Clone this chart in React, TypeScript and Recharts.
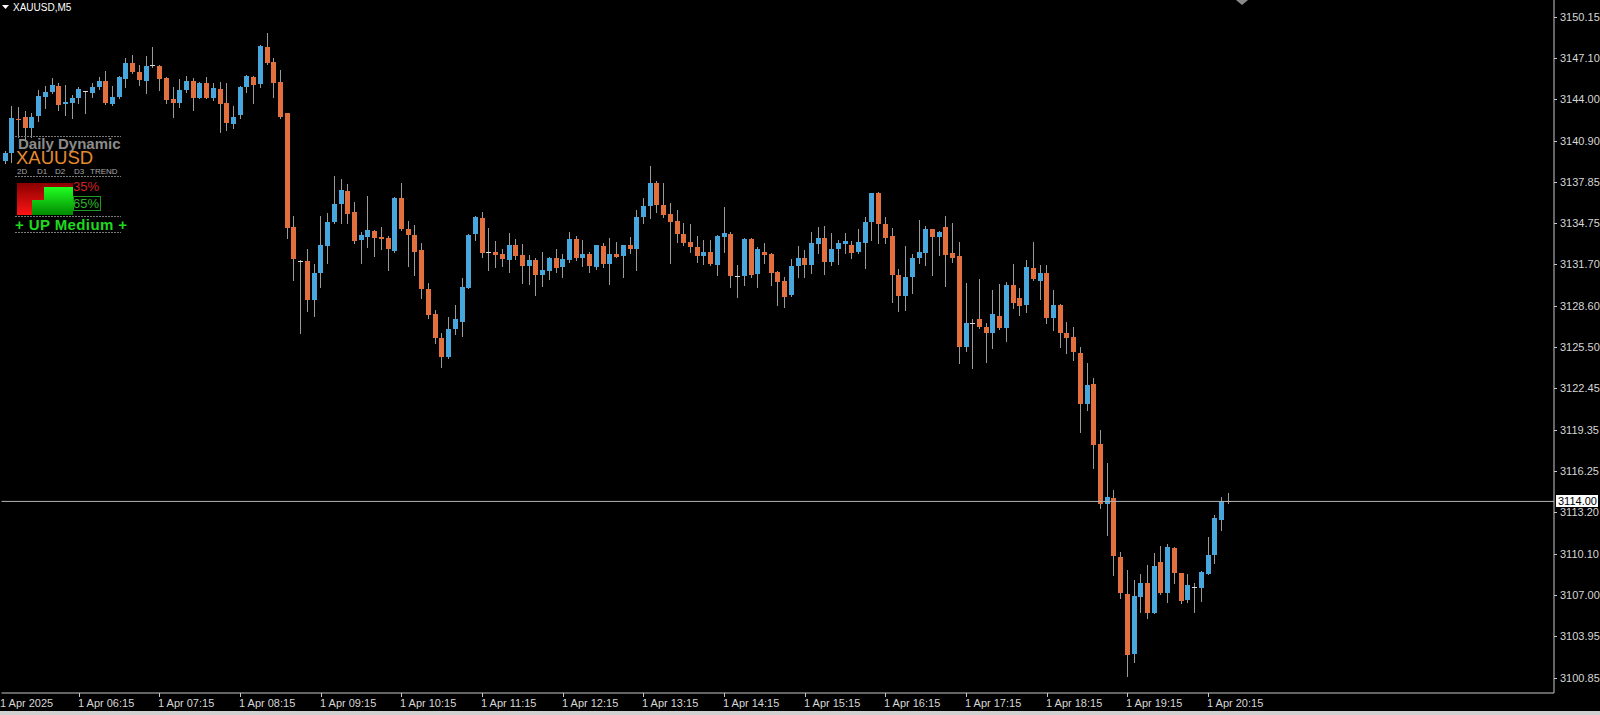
import React from "react";
import { ComposedChart, Bar, XAxis, YAxis, ReferenceLine } from "recharts";

// ---- data (M5 bars, XAUUSD, 1 Apr 2025) ----
const START_TIME = "05:20";
const BAR_MINUTES = 5;
const FUTURE_SLOTS = 48; // empty chart-shift area on the right

const OPEN = [
  3139.41, 3139.96, 3142.55, 3142.65, 3141.83, 3142.75, 3144.19, 3144.56, 3144.98, 3143.64,
  3143.74, 3144.06, 3144.58, 3144.44, 3144.93, 3145.38, 3143.64, 3144.19, 3145.48, 3146.67,
  3146.05, 3145.36, 3146.55, 3146.50, 3145.60, 3143.99, 3143.74, 3144.69, 3145.38, 3144.11,
  3145.18, 3144.11, 3144.73, 3143.74, 3142.15, 3142.82, 3144.88, 3145.68, 3145.13, 3147.87,
  3146.80, 3145.31, 3142.95, 3134.44, 3131.95, 3131.95, 3129.02, 3131.01, 3133.05, 3134.86,
  3136.18, 3137.15, 3135.61, 3133.49, 3133.74, 3134.17, 3133.74, 3133.62, 3132.70, 3136.65,
  3134.29, 3133.87, 3132.75, 3129.82, 3127.98, 3126.16, 3124.74, 3126.83, 3127.40, 3129.89,
  3133.94, 3135.11, 3132.57, 3132.62, 3132.42, 3132.00, 3133.12, 3132.37, 3131.55, 3132.00,
  3130.88, 3131.21, 3132.18, 3131.46, 3132.01, 3133.55, 3132.18, 3132.43, 3131.51, 3133.05,
  3131.68, 3132.43, 3132.31, 3133.13, 3132.80, 3135.19, 3136.03, 3137.77, 3136.11, 3135.44,
  3134.94, 3133.95, 3133.37, 3132.95, 3132.31, 3132.63, 3131.63, 3133.70, 3133.95, 3130.81,
  3130.81, 3133.55, 3130.96, 3132.58, 3132.43, 3131.14, 3130.47, 3129.40, 3131.56, 3132.13,
  3131.63, 3133.18, 3133.62, 3131.88, 3132.80, 3133.20, 3133.12, 3132.63, 3133.30, 3134.86,
  3136.98, 3134.69, 3133.79, 3130.89, 3129.32, 3130.76, 3132.13, 3132.55, 3134.29, 3133.70,
  3134.44, 3132.50, 3132.30, 3125.54, 3127.33, 3127.58, 3126.98, 3126.59, 3127.83, 3126.91,
  3130.14, 3129.15, 3128.65, 3131.38, 3130.46, 3131.01, 3127.65, 3128.65, 3126.59, 3126.29,
  3125.09, 3121.27, 3122.76, 3118.28, 3113.81, 3114.23, 3109.88, 3107.10, 3102.62, 3106.85,
  3107.94, 3105.70, 3109.51, 3107.15, 3110.50, 3108.64, 3106.65, 3107.60, 3107.52, 3108.59,
  3110.00, 3112.61, 3114.00,
];

const HIGH = [
  3140.16, 3143.49, 3143.39, 3143.12, 3142.95, 3144.69, 3144.98, 3145.56, 3145.18, 3145.06,
  3144.31, 3144.93, 3144.62, 3145.18, 3145.68, 3146.13, 3144.98, 3145.73, 3147.05, 3147.30,
  3146.55, 3147.22, 3147.92, 3146.55, 3145.68, 3144.93, 3145.48, 3145.75, 3145.56, 3145.31,
  3145.68, 3145.18, 3145.31, 3145.18, 3143.49, 3144.98, 3145.80, 3145.75, 3148.04, 3148.96,
  3147.05, 3146.18, 3143.00, 3135.28, 3131.98, 3132.80, 3131.70, 3135.28, 3135.48, 3138.27,
  3138.02, 3137.67, 3136.35, 3134.12, 3136.78, 3134.24, 3134.44, 3133.79, 3136.68, 3137.72,
  3134.94, 3134.61, 3133.25, 3130.31, 3128.27, 3126.53, 3127.73, 3128.65, 3130.64, 3133.94,
  3135.28, 3135.61, 3134.36, 3133.44, 3132.80, 3133.99, 3133.54, 3133.20, 3132.37, 3132.13,
  3132.62, 3132.25, 3132.80, 3132.45, 3134.12, 3133.80, 3133.50, 3132.63, 3133.13, 3133.25,
  3133.62, 3133.37, 3133.13, 3133.75, 3135.74, 3136.61, 3139.02, 3137.92, 3137.77, 3136.28,
  3135.74, 3134.79, 3134.69, 3133.80, 3133.50, 3133.50, 3133.87, 3135.93, 3134.12, 3131.63,
  3133.62, 3133.62, 3133.00, 3133.30, 3132.50, 3131.21, 3130.76, 3132.06, 3133.05, 3132.75,
  3134.12, 3134.44, 3134.54, 3134.00, 3133.50, 3134.00, 3133.45, 3134.29, 3135.24, 3137.00,
  3137.10, 3135.24, 3134.37, 3131.31, 3133.05, 3132.45, 3134.99, 3134.54, 3134.35, 3134.19,
  3135.29, 3134.79, 3133.37, 3130.31, 3127.58, 3130.56, 3127.33, 3129.77, 3130.21, 3130.39,
  3131.71, 3129.89, 3132.00, 3133.37, 3131.63, 3131.63, 3129.77, 3128.70, 3127.41, 3127.03,
  3125.54, 3124.30, 3123.18, 3119.33, 3116.89, 3114.85, 3110.25, 3108.89, 3108.14, 3108.59,
  3109.26, 3110.13, 3110.68, 3110.82, 3110.63, 3108.69, 3108.59, 3107.89, 3108.80, 3111.32,
  3112.99, 3114.30, 3114.65,
];

const LOW = [
  3139.27, 3139.34, 3141.20, 3140.96, 3141.20, 3142.40, 3143.32, 3144.44, 3143.19, 3142.82,
  3142.57, 3143.69, 3142.95, 3144.19, 3144.73, 3143.64, 3143.57, 3144.06, 3144.93, 3145.98,
  3145.06, 3144.44, 3146.38, 3144.69, 3143.69, 3142.70, 3143.44, 3144.56, 3143.19, 3144.06,
  3144.06, 3143.94, 3141.58, 3141.70, 3141.83, 3142.57, 3144.56, 3143.69, 3144.93, 3146.60,
  3144.19, 3142.57, 3133.62, 3130.51, 3126.59, 3128.22, 3127.83, 3130.01, 3131.80, 3134.74,
  3134.74, 3134.74, 3133.25, 3131.75, 3133.00, 3132.30, 3132.80, 3131.26, 3132.62, 3134.24,
  3131.55, 3130.88, 3129.14, 3127.65, 3125.79, 3124.05, 3124.67, 3126.48, 3126.34, 3129.89,
  3133.49, 3132.20, 3131.26, 3131.50, 3131.55, 3131.13, 3132.05, 3130.26, 3130.21, 3129.39,
  3130.06, 3130.56, 3131.13, 3130.76, 3131.88, 3132.01, 3131.56, 3131.14, 3131.31, 3131.51,
  3130.22, 3132.21, 3130.76, 3132.50, 3131.26, 3134.79, 3135.11, 3135.61, 3135.24, 3131.76,
  3133.37, 3133.13, 3132.63, 3131.88, 3131.71, 3131.63, 3130.89, 3132.63, 3130.02, 3129.27,
  3130.14, 3130.76, 3129.97, 3131.76, 3130.14, 3128.65, 3128.53, 3129.32, 3130.76, 3130.76,
  3131.06, 3132.55, 3130.96, 3131.63, 3131.71, 3132.50, 3132.13, 3132.50, 3131.38, 3133.50,
  3133.25, 3133.25, 3128.90, 3128.23, 3128.28, 3129.52, 3131.76, 3131.63, 3130.89, 3132.38,
  3130.07, 3131.88, 3124.35, 3125.24, 3123.93, 3126.91, 3124.42, 3125.42, 3126.83, 3125.99,
  3128.40, 3127.90, 3128.15, 3130.51, 3129.07, 3127.28, 3126.78, 3125.54, 3125.05, 3124.55,
  3119.20, 3120.82, 3116.47, 3113.49, 3111.50, 3108.51, 3106.77, 3100.98, 3102.00, 3105.78,
  3105.28, 3105.65, 3107.10, 3106.52, 3107.89, 3106.40, 3106.52, 3105.78, 3106.60, 3108.59,
  3109.38, 3111.87, 3113.86,
];

const CLOSE = [
  3140.01, 3142.57, 3142.50, 3141.83, 3142.70, 3144.24, 3144.56, 3145.06, 3143.57, 3143.81,
  3144.06, 3144.73, 3144.58, 3144.93, 3145.36, 3143.69, 3144.19, 3145.68, 3146.67, 3146.05,
  3145.43, 3146.50, 3146.55, 3145.51, 3143.94, 3143.69, 3144.69, 3145.38, 3144.11, 3145.18,
  3144.11, 3144.81, 3143.64, 3142.20, 3142.65, 3144.88, 3145.73, 3145.06, 3147.97, 3146.67,
  3145.23, 3142.70, 3134.36, 3132.05, 3131.95, 3129.02, 3131.06, 3133.12, 3134.86, 3136.18,
  3137.22, 3135.43, 3133.44, 3133.87, 3134.24, 3133.62, 3133.54, 3132.80, 3136.60, 3134.31,
  3133.87, 3132.62, 3129.82, 3127.90, 3126.16, 3124.74, 3126.83, 3127.58, 3130.01, 3133.87,
  3135.18, 3132.50, 3132.57, 3132.37, 3132.05, 3133.12, 3132.30, 3131.55, 3132.00, 3130.88,
  3131.26, 3132.18, 3131.38, 3132.05, 3133.55, 3132.13, 3132.43, 3131.56, 3133.13, 3131.71,
  3132.43, 3132.26, 3133.13, 3132.80, 3135.24, 3136.03, 3137.77, 3136.11, 3135.36, 3134.87,
  3133.95, 3133.30, 3133.00, 3132.31, 3132.63, 3131.71, 3133.80, 3134.00, 3130.81, 3130.81,
  3133.55, 3130.89, 3132.80, 3132.38, 3131.06, 3130.39, 3129.27, 3131.56, 3132.13, 3131.63,
  3133.25, 3133.62, 3131.88, 3132.80, 3133.25, 3133.45, 3132.55, 3133.37, 3134.86, 3136.98,
  3134.69, 3133.62, 3130.89, 3129.32, 3130.76, 3132.13, 3132.63, 3134.29, 3133.70, 3134.12,
  3132.38, 3132.13, 3125.54, 3127.33, 3127.33, 3127.03, 3126.59, 3127.98, 3126.91, 3130.14,
  3128.82, 3128.57, 3131.46, 3130.56, 3131.01, 3127.65, 3128.65, 3126.54, 3126.16, 3125.17,
  3121.27, 3122.68, 3118.21, 3113.81, 3114.30, 3109.93, 3107.15, 3102.55, 3106.95, 3107.89,
  3105.65, 3109.19, 3107.15, 3110.58, 3108.64, 3106.60, 3107.77, 3107.60, 3108.76, 3110.00,
  3112.74, 3114.06, 3114.00,
];

const TIME_TICKS = [
  "05:20", "06:15", "07:15", "08:15", "09:15", "10:15", "11:15", "12:15",
  "13:15", "14:15", "15:15", "16:15", "17:15", "18:15", "19:15", "20:15",
];
const FIRST_LABEL = "1 Apr 2025";
const DAY_PREFIX = "1 Apr ";

const PRICE_TICKS = [
  3150.15, 3147.1, 3144.0, 3140.9, 3137.85, 3134.75, 3131.7, 3128.6, 3125.5,
  3122.45, 3119.35, 3116.25, 3113.2, 3110.1, 3107.0, 3103.95, 3100.85,
];
const CURRENT_PRICE = 3114.0;
const Y_MIN = 3099.71;
const Y_MAX = 3151.4;

// ---- style ----
const W = 1600;
const H = 715;
const PLOT_RIGHT = 1554;
const PLOT_BOTTOM = 693;
const BULL = "#47a7dc";
const BEAR = "#e26f3e";
const WICK = "#9a9a9a";
const DOJI = "#d8d8d8";
const AXIS = "#c8c8c8";
const TEXT = "#d6d6d6";
const FONT = "'Liberation Sans', Arial, sans-serif";

function timeLabel(i: number): string {
  const [hh, mm] = START_TIME.split(":").map(Number);
  const m = (hh * 60 + mm + i * BAR_MINUTES) % 1440;
  const h2 = Math.floor(m / 60);
  const m2 = m % 60;
  return String(h2).padStart(2, "0") + ":" + String(m2).padStart(2, "0");
}

const data: any[] = [];
for (let i = 0; i < OPEN.length + FUTURE_SLOTS; i++) {
  if (i < OPEN.length) {
    data.push({ t: timeLabel(i), o: OPEN[i], h: HIGH[i], l: LOW[i], c: CLOSE[i] });
  } else {
    data.push({ t: timeLabel(i) });
  }
}

const Candle = (props: any) => {
  const { x, y, width, height, payload } = props;
  if (!payload || payload.o == null) return null;
  if (![x, y, width, height].every((v) => Number.isFinite(v))) return null;
  const { o, h, l, c } = payload;
  const top = Math.min(y, y + height);
  const bottom = Math.max(y, y + height);
  const span = h - l;
  const toY = (v: number) => (span > 0 ? top + ((h - v) / span) * (bottom - top) : top);
  const cx = Math.round(x + width / 2);
  const wx = cx + 0.5;
  const bTop = Math.round(toY(Math.max(o, c)));
  const bBot = Math.round(toY(Math.min(o, c)));
  const wick = (
    <line x1={wx} x2={wx} y1={Math.round(top)} y2={Math.round(bottom) + 1} stroke={WICK} strokeWidth={1} />
  );
  if (o === c) {
    return (
      <g>
        {wick}
        <line x1={cx - 2} x2={cx + 3} y1={bTop + 0.5} y2={bTop + 0.5} stroke={DOJI} strokeWidth={1} />
      </g>
    );
  }
  const color = c > o ? BULL : BEAR;
  return (
    <g>
      {wick}
      <rect x={cx - 2} y={bTop} width={5} height={Math.max(1, bBot - bTop)} fill={color} />
    </g>
  );
};

const TimeTick = (props: any) => {
  const { x, y, payload } = props;
  const first = payload.value === START_TIME;
  const tx = Math.round(x);
  return (
    <g>
      {!first && <line x1={tx + 0.5} x2={tx + 0.5} y1={y} y2={y + 4} stroke={AXIS} />}
      <text x={first ? 0 : tx - 1} y={y + 14} fill={TEXT} fontSize={11} fontFamily={FONT} textAnchor="start">
        {first ? FIRST_LABEL : DAY_PREFIX + payload.value}
      </text>
    </g>
  );
};

const PriceTick = (props: any) => {
  const { x, y, payload } = props;
  const ty = Math.round(y) + 0.5;
  return (
    <g>
      <line x1={x} x2={x + 3} y1={ty} y2={ty} stroke={AXIS} />
      <text x={x + 6} y={y + 4} fill={TEXT} fontSize={11} fontFamily={FONT} textAnchor="start">
        {Number(payload.value).toFixed(2)}
      </text>
    </g>
  );
};

const CurrentPriceLabel = (props: any) => {
  const vb = props.viewBox || {};
  const lx = (vb.x ?? 0) + (vb.width ?? 0) + 2;
  const ly = Math.round(vb.y ?? 0);
  return (
    <g>
      <rect x={lx} y={ly - 6} width={42} height={12} fill="#ffffff" />
      <text x={lx + 2} y={ly + 4} fill="#000000" fontSize={11} fontFamily={FONT}>
        {CURRENT_PRICE.toFixed(2)}
      </text>
    </g>
  );
};

const Overlay = () => (
  <svg width={W} height={H} style={{ position: "absolute", left: 0, top: 0, pointerEvents: "none" }}>
    <defs>
      <linearGradient id="redG" x1="0" y1="0" x2="0" y2="1">
        <stop offset="0%" stopColor="#8a0000" />
        <stop offset="100%" stopColor="#ff1414" />
      </linearGradient>
      <linearGradient id="greenG" x1="0" y1="0" x2="0" y2="1">
        <stop offset="0%" stopColor="#22ff22" />
        <stop offset="100%" stopColor="#008a00" />
      </linearGradient>
    </defs>
    {/* title */}
    <polygon points="2,5 9,5 5.5,9" fill="#ffffff" />
    <text x={13} y={11} fill="#ffffff" fontSize={10} fontFamily={FONT}>XAUUSD,M5</text>
    {/* chart-shift marker */}
    <polygon points="1236,0 1248,0 1242,5" fill="#8a8a8a" />
    {/* Daily Dynamic panel */}
    <line x1={15} x2={121} y1={136.5} y2={136.5} stroke="#7a7a7a" strokeDasharray="2,1" />
    <text x={18} y={149} fill="#8c8c8c" fontSize={15} fontWeight="bold" fontFamily={FONT}>Daily Dynamic</text>
    <text x={16} y={163.5} fill="#e58b2e" fontSize={18.5} fontFamily={FONT}>XAUUSD</text>
    <g fill="#a8a8a8" fontSize={8} fontFamily={FONT}>
      <text x={17} y={174}>2D</text>
      <text x={37} y={174}>D1</text>
      <text x={55} y={174}>D2</text>
      <text x={74} y={174}>D3</text>
      <text x={90} y={174}>TREND</text>
    </g>
    <line x1={15} x2={121} y1={176.5} y2={176.5} stroke="#7a7a7a" strokeDasharray="2,1" />
    <rect x={17} y={183} width={56} height={32} fill="url(#redG)" />
    <polygon points="32,215 32,200 44,200 44,187 73,187 73,215" fill="url(#greenG)" />
    <text x={73} y={191} fill="#d42020" fontSize={13} fontFamily={FONT}>35%</text>
    <rect x={73.5} y={196.5} width={27} height={14} fill="none" stroke="#1f9a1f" />
    <text x={73} y={208} fill="#22b822" fontSize={13} fontFamily={FONT}>65%</text>
    <line x1={15} x2={121} y1={216.5} y2={216.5} stroke="#7a7a7a" strokeDasharray="2,1" />
    <text x={15} y={230} fill="#1fd81f" fontSize={15} fontWeight="bold" letterSpacing={0.4} fontFamily={FONT}>+ UP Medium +</text>
    <line x1={15} x2={121} y1={232.5} y2={232.5} stroke="#7a7a7a" strokeDasharray="2,1" />
    {/* bottom frame strip */}
    <rect x={0} y={711} width={W} height={4} fill="#d0d0d0" />
  </svg>
);

export default function App() {
  return (
    <div style={{ position: "absolute", left: 0, top: 0, width: W, height: H, background: "#000", overflow: "hidden" }}>
      <ComposedChart
        width={W}
        height={H}
        data={data}
        margin={{ top: 0, right: 0, bottom: 0, left: 1.5 }}
        barCategoryGap={0}
      >
        <XAxis
          dataKey="t"
          type="category"
          ticks={TIME_TICKS}
          interval={0}
          height={H - PLOT_BOTTOM}
          tickSize={0}
          tickMargin={0}
          tickLine={false}
          axisLine={{ stroke: AXIS }}
          tick={<TimeTick />}
        />
        <YAxis
          orientation="right"
          type="number"
          domain={[Y_MIN, Y_MAX]}
          allowDataOverflow
          ticks={PRICE_TICKS}
          interval={0}
          width={W - PLOT_RIGHT}
          tickSize={0}
          tickMargin={0}
          tickLine={false}
          axisLine={{ stroke: AXIS }}
          tick={<PriceTick />}
        />
        <ReferenceLine
          y={CURRENT_PRICE}
          stroke="#b4b4b4"
          strokeWidth={1}
          ifOverflow="visible"
          label={(p: any) => <CurrentPriceLabel {...p} />}
        />
        <Bar
          dataKey={(d: any) => (d.o == null ? null : [d.l, d.h])}
          barSize={6}
          shape={(p: any) => <Candle {...p} />}
          isAnimationActive={false}
        />
      </ComposedChart>
      <Overlay />
    </div>
  );
}
